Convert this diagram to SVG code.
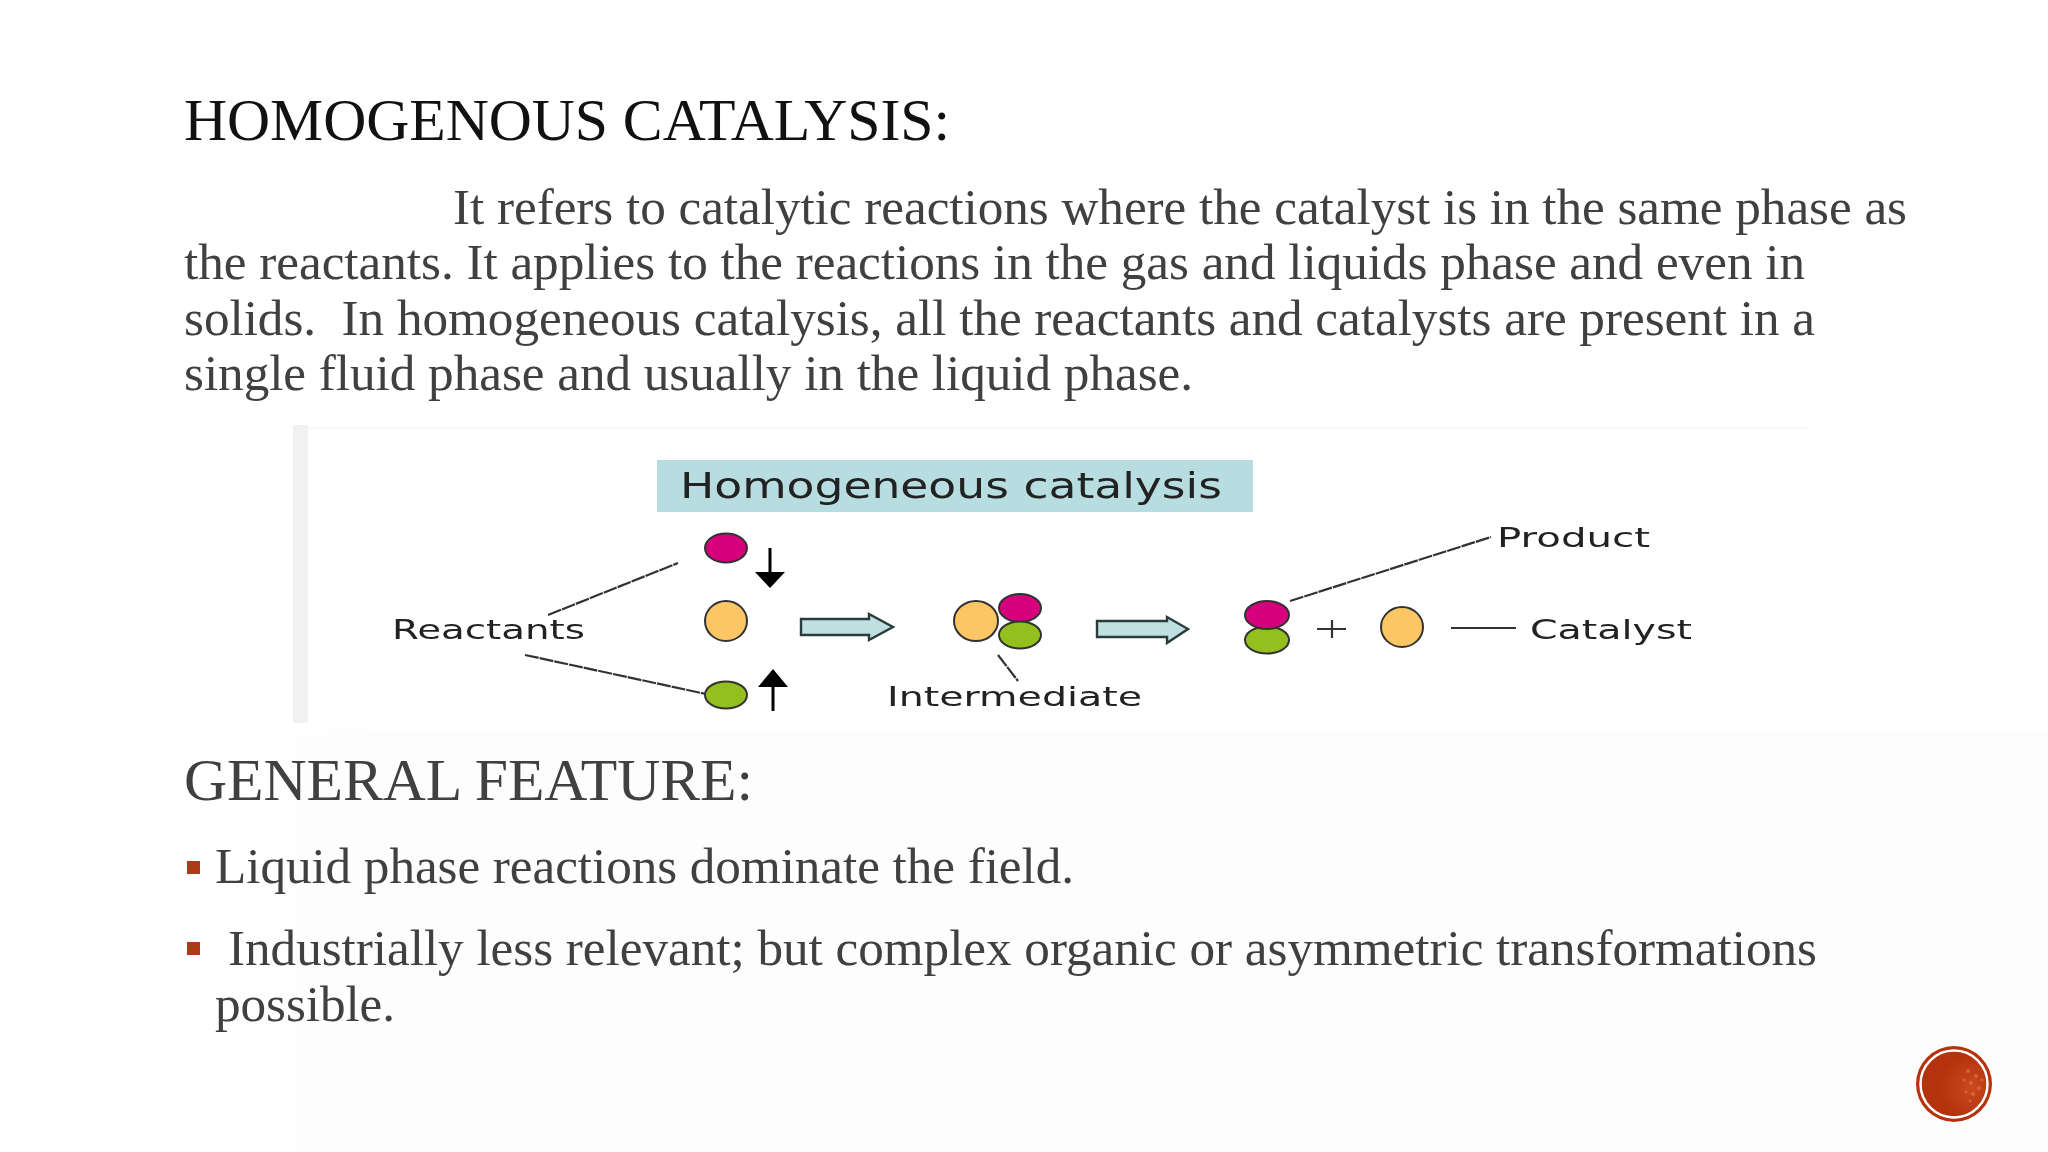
<svg xmlns="http://www.w3.org/2000/svg" width="2048" height="1152" viewBox="0 0 2048 1152">
<style>
.t{font-family:"Liberation Serif","Times New Roman",serif;font-size:51.2px;fill:#404040}
.h{font-size:59.7px}
.p{font-family:"DejaVu Sans",Verdana,sans-serif;fill:#222;font-size:27px}
.l{stroke:#333;stroke-width:2.2;fill:none}
.o{stroke:#333;stroke-width:2}
.m{fill:#d6007f}.g{fill:#93c01f}.y{fill:#fbc664}
.a{fill:#bfdfe0;stroke:#2c3a3a;stroke-width:2.4}
.s{fill:#d8603a}
</style>
<defs>
<filter id="soft" x="-5%" y="-5%" width="110%" height="110%"><feGaussianBlur stdDeviation="0.7"/></filter>
<radialGradient id="red" cx="0.78" cy="0.55" r="0.5"><stop offset="0" stop-color="#c9491f"/><stop offset="0.7" stop-color="#bb3a12"/><stop offset="1" stop-color="#b5330f"/></radialGradient>
<linearGradient id="fade" x1="0" x2="1" y1="0" y2="0"><stop offset="0" stop-color="#fff"/><stop offset="0.1" stop-color="#fdfdfe"/></linearGradient>
</defs>
<rect width="2048" height="1152" fill="#fff"/>
<rect x="200" y="730" width="1848" height="422" fill="url(#fade)"/>
<g id="heading"><text x="184" y="140" class="t h" style="fill:#111" textLength="766">HOMOGENOUS CATALYSIS:</text></g>
<g id="paragraph">
<text x="453" y="224" class="t" textLength="1454">It refers to catalytic reactions where the catalyst is in the same phase as</text>
<text x="184" y="279" class="t" textLength="1621">the reactants. It applies to the reactions in the gas and liquids phase and even in</text>
<text x="184" y="335" class="t" xml:space="preserve" textLength="1631">solids.  In homogeneous catalysis, all the reactants and catalysts are present in a</text>
<text x="184" y="390" class="t" textLength="1009">single fluid phase and usually in the liquid phase.</text>
</g>
<g id="figure" filter="url(#soft)">
<rect x="293" y="425" width="15" height="298" fill="#f1f1f1"/>
<rect x="308" y="426" width="1500" height="4" fill="#fafafa"/>
<g id="title"><rect x="657" y="460" width="596" height="52" fill="#b7dde0"/>
<text x="680" y="498" class="p" style="font-size:35px" lengthAdjust="spacingAndGlyphs" textLength="542">Homogeneous catalysis</text></g>
<g id="connectors">
<path class="l" stroke-dasharray="14 1" d="M548 615L678 563M525 655L706 694M998 655L1018 681M1290 601L1491 537"/>
<path class="l" d="M1451 628H1516M1317 629H1346M1332 620V638"/>
<path d="M770 548V575" stroke="#000" stroke-width="3"/><path d="M755 572H785L770 588Z" fill="#000"/>
<path d="M773 711V685" stroke="#000" stroke-width="3"/><path d="M758 687H788L773 669Z" fill="#000"/>
<path class="a" d="M801 619H869V614L893 627L869 640V635H801Z"/>
<path class="a" d="M1097 621H1167V617L1188 629L1167 643V637H1097Z"/>
</g>
<g id="reactants"><text x="392" y="639" class="p" lengthAdjust="spacingAndGlyphs" textLength="193">Reactants</text></g>
<g id="reactant-a"><ellipse cx="726" cy="548" rx="21" ry="14.5" class="m o"/></g>
<g id="reactant-b"><ellipse cx="726" cy="621" rx="21" ry="20" class="y o"/></g>
<g id="reactant-c"><ellipse cx="726" cy="695" rx="21" ry="13.5" class="g o"/></g>
<g id="intermediate-complex">
<ellipse cx="976" cy="621" rx="22" ry="20" class="y o"/>
<ellipse cx="1020" cy="608" rx="21" ry="14" class="m o"/>
<ellipse cx="1020" cy="635" rx="21" ry="13.5" class="g o"/>
</g>
<g id="intermediate"><text x="887" y="706" class="p" lengthAdjust="spacingAndGlyphs" textLength="255">Intermediate</text></g>
<g id="product-complex">
<ellipse cx="1267" cy="640" rx="22" ry="13.5" class="g o"/>
<ellipse cx="1267" cy="615" rx="22" ry="14" class="m o"/>
</g>
<g id="product"><text x="1497" y="547" class="p" lengthAdjust="spacingAndGlyphs" textLength="153">Product</text></g>
<g id="catalyst-shape"><ellipse cx="1402" cy="627" rx="21" ry="20" class="y o"/></g>
<g id="catalyst"><text x="1530" y="639" class="p" lengthAdjust="spacingAndGlyphs" textLength="162">Catalyst</text></g>
</g>
<g id="general"><text x="184" y="800" class="t h" textLength="569">GENERAL FEATURE:</text></g>
<g id="bullets">
<rect x="187" y="861" width="13" height="13" fill="#b03a17"/>
<rect x="187" y="942" width="13" height="13" fill="#b03a17"/>
<text x="215" y="883" class="t" textLength="859">Liquid phase reactions dominate the field.</text>
<text x="228" y="965" class="t" textLength="1589">Industrially less relevant; but complex organic or asymmetric transformations</text>
<text x="215" y="1021" class="t" textLength="180">possible.</text>
</g>
<g id="badge" filter="url(#soft)">
<circle cx="1954" cy="1084" r="38" fill="#b5330f"/>
<circle cx="1954" cy="1084" r="33.5" fill="none" stroke="#fff" stroke-width="2.5"/>
<circle cx="1954" cy="1084" r="31.5" fill="url(#red)"/>
<circle class="s" cx="1968" cy="1071" r="2"/><circle class="s" cx="1976" cy="1076" r="2"/><circle class="s" cx="1971" cy="1083" r="2"/><circle class="s" cx="1979" cy="1088" r="2"/><circle class="s" cx="1964" cy="1080" r="1.5"/><circle class="s" cx="1973" cy="1094" r="2"/><circle class="s" cx="1966" cy="1092" r="1.5"/><circle class="s" cx="1982" cy="1080" r="1.5"/><circle class="s" cx="1970" cy="1101" r="1.5"/>
</g>
</svg>
